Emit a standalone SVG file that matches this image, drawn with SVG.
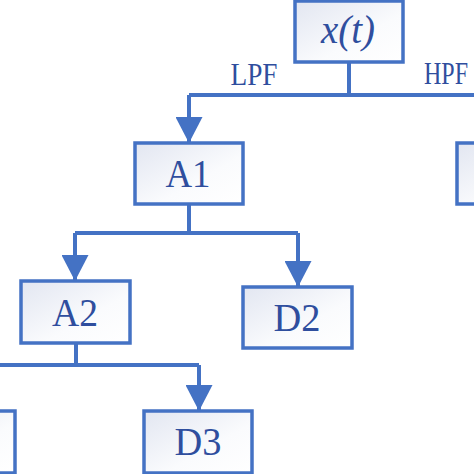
<svg xmlns="http://www.w3.org/2000/svg" width="474" height="474" viewBox="0 0 474 474">
<defs>
<linearGradient id="bg" x1="0" y1="0" x2="1" y2="1">
<stop offset="0" stop-color="#E2E6F1"/>
<stop offset="0.6" stop-color="#FAFBFD"/>
<stop offset="1" stop-color="#FFFFFF"/>
</linearGradient>
<marker id="ah" markerUnits="userSpaceOnUse" markerWidth="28" markerHeight="27" refX="27" refY="14" orient="auto" viewBox="0 0 27 28">
<path d="M0,0 L27,14 L0,28 Z" fill="#4472C4"/>
</marker>
<style>
.box{fill:url(#bg);stroke:#4472C4;stroke-width:3.5}
.lbl{font-family:"Liberation Serif","Times New Roman",serif;fill:#2F4E9E;text-anchor:middle}
.n{font-size:40px}
.c{fill:none;stroke:#4472C4;stroke-width:4}
</style>
</defs>
<rect width="474" height="474" fill="#FFFFFF"/>
<g id="connectors">
<path class="c" d="M349,62 V95"/>
<path class="c" d="M189,95 H480"/>
<path class="c" d="M189,95 V143" marker-end="url(#ah)"/>
<path class="c" d="M189,205 V233"/>
<path class="c" d="M75,233 H298"/>
<path class="c" d="M75,233 V281" marker-end="url(#ah)"/>
<path class="c" d="M298,233 V287" marker-end="url(#ah)"/>
<path class="c" d="M76,343 V365"/>
<path class="c" d="M-10,365 H199"/>
<path class="c" d="M199,365 V411" marker-end="url(#ah)"/>
<text class="lbl" x="254" y="85" font-size="32" textLength="47" lengthAdjust="spacingAndGlyphs">LPF</text>
<text class="lbl" x="446" y="84" font-size="32" textLength="44" lengthAdjust="spacingAndGlyphs">HPF</text>
</g>
<g id="node-xt">
<rect class="box" x="295" y="1" width="108" height="61"/>
<text class="lbl" x="348" y="43" font-size="40" font-style="italic" textLength="54" lengthAdjust="spacingAndGlyphs">x(t)</text>
</g>
<g id="node-A1">
<rect class="box" x="135" y="143" width="108" height="61"/>
<text class="lbl n" x="188" y="187" textLength="45" lengthAdjust="spacingAndGlyphs">A1</text>
</g>
<g id="node-D1">
<rect class="box" x="457" y="143" width="108" height="61"/>
</g>
<g id="node-A2">
<rect class="box" x="21" y="281" width="109" height="62"/>
<text class="lbl n" x="75" y="326" textLength="46" lengthAdjust="spacingAndGlyphs">A2</text>
</g>
<g id="node-D2">
<rect class="box" x="243" y="287" width="109" height="61"/>
<text class="lbl n" x="297" y="331" textLength="47" lengthAdjust="spacingAndGlyphs">D2</text>
</g>
<g id="node-A3">
<rect class="box" x="-94" y="411" width="109" height="62"/>
</g>
<g id="node-D3">
<rect class="box" x="144" y="411" width="108" height="62"/>
<text class="lbl n" x="198" y="455" textLength="47" lengthAdjust="spacingAndGlyphs">D3</text>
</g>
</svg>
